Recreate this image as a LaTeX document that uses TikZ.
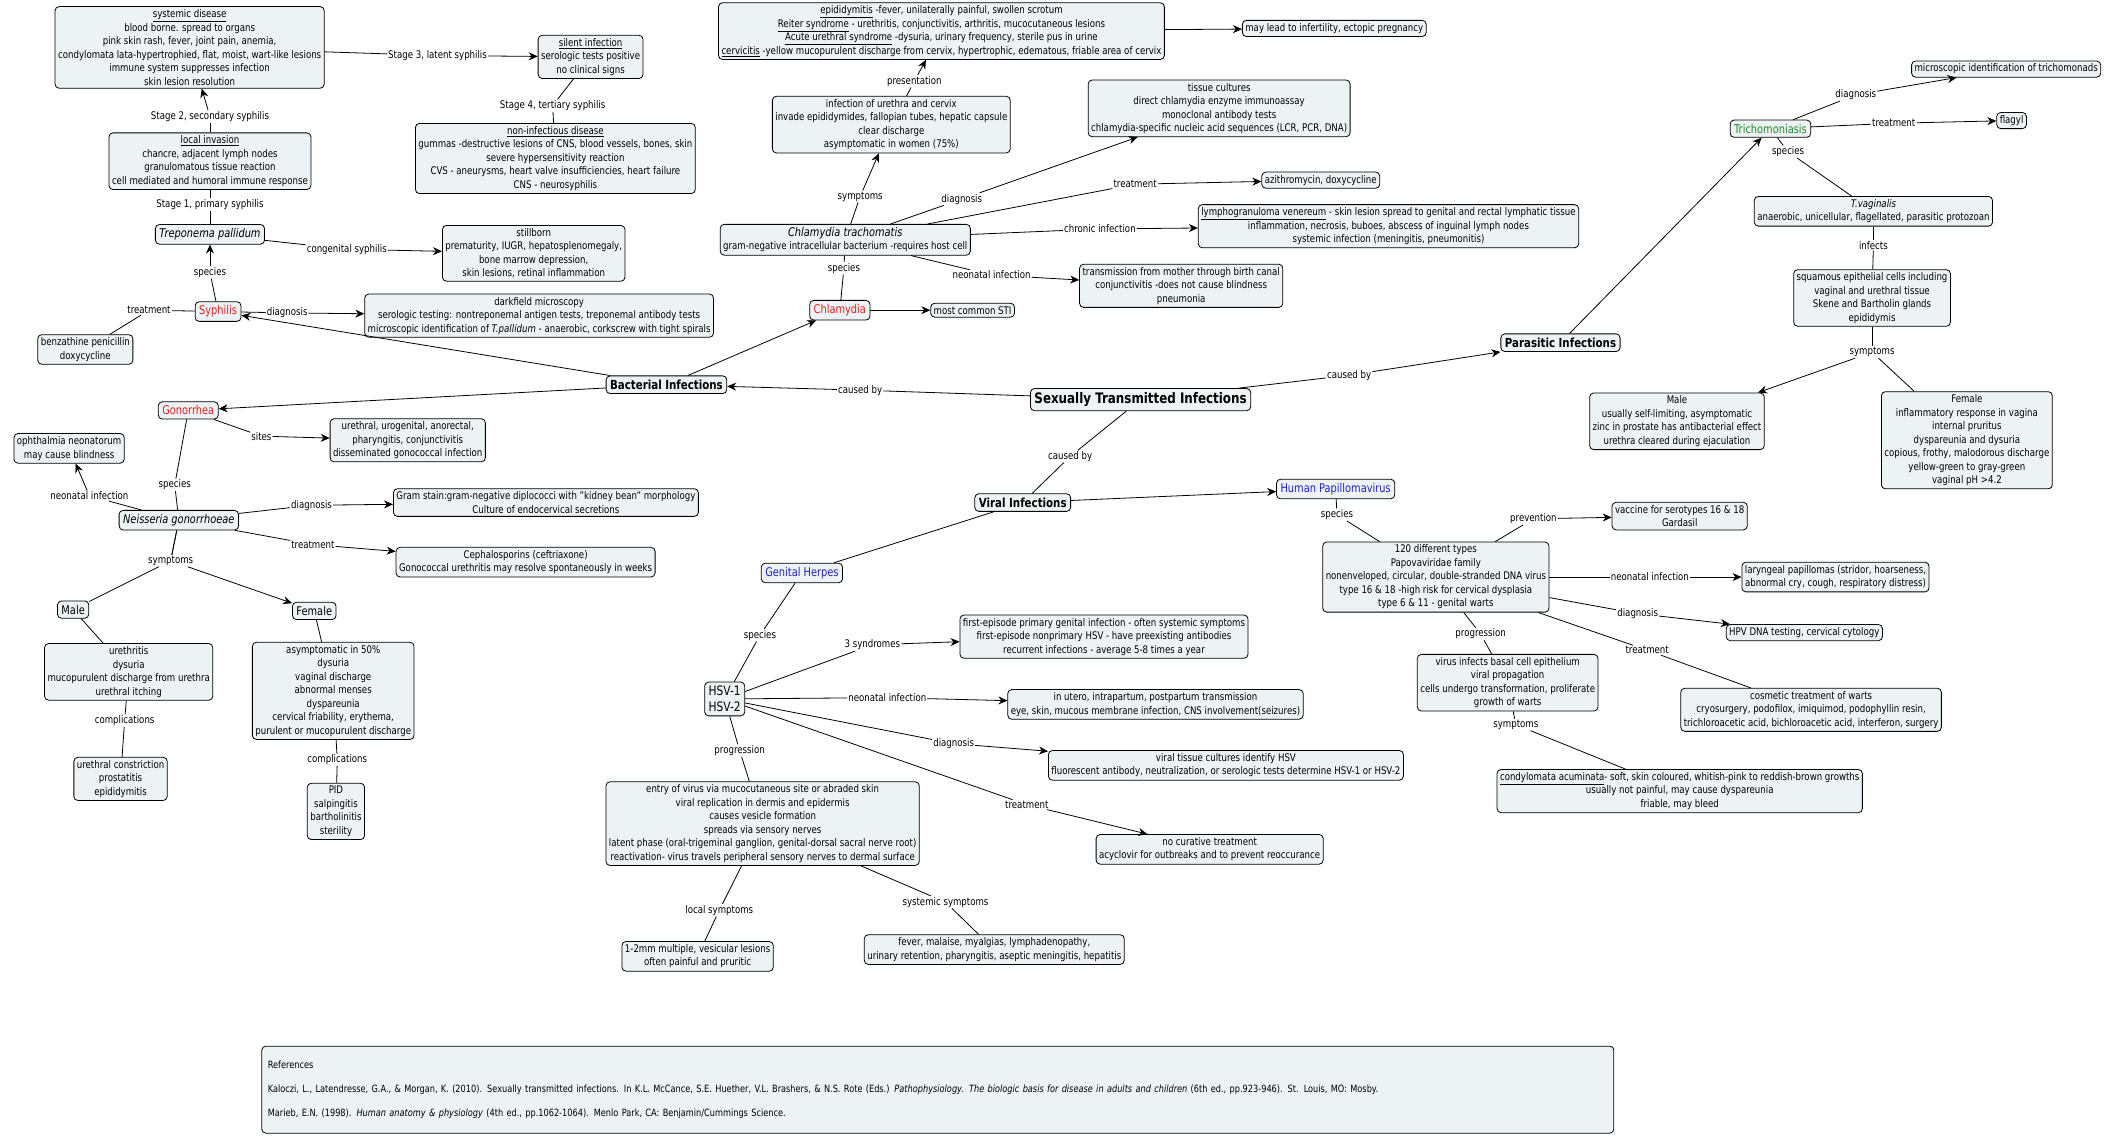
\documentclass[tikz,border=0pt]{standalone}
\usepackage{fontspec}
\setmainfont{DejaVu Sans}[FakeStretch=0.82]
\usetikzlibrary{arrows.meta}
\definecolor{boxfill}{HTML}{EDF2F4}
\definecolor{cred}{HTML}{E0201B}
\definecolor{cblue}{HTML}{2020C8}
\definecolor{cgreen}{HTML}{1E8A28}
\tikzset{box/.style={draw,rounded corners=4pt,fill=boxfill,align=center,inner sep=3pt,line width=0.8pt,font=\fontsize{10.5}{13.5}\selectfont},
	lbl/.style={inner sep=1pt,font=\fontsize{10.5}{13}\selectfont},
	head/.style={box,font=\fontsize{12.5}{15}\selectfont\bfseries,inner sep=4pt},
	kind/.style={box,font=\fontsize{12}{15}\selectfont,inner sep=4pt},
	link/.style={line width=0.8pt},
	arr/.style={link,-{Stealth[length=9pt,width=8pt]}}}

\begin{document}
\begin{tikzpicture}[x=1.3546pt,y=-1.3546pt]
\useasboundingbox (0,0) rectangle (1568,839);
% syphilis
\node[box] (sysdis) at (140,35) {\underline{systemic disease}\\blood borne. spread to organs\\pink skin rash, fever, joint pain, anemia,\\condylomata lata-hypertrophied, flat, moist, wart-like lesions\\immune system suppresses infection\\skin lesion resolution};
\node[box] (silent) at (436,42) {\underline{silent infection}\\serologic tests positive\\no clinical signs};
\node[box] (noninf) at (410,117) {\underline{non-infectious disease}\\gummas -destructive lesions of CNS, blood vessels, bones, skin\\severe hypersensitivity reaction\\CVS - aneurysms, heart valve insufficiencies, heart failure\\CNS - neurosyphilis};
\node[box] (localinv) at (155,119) {\underline{local invasion}\\chancre, adjacent lymph nodes\\granulomatous tissue reaction\\cell mediated and humoral immune response};
\node[kind] (tpall) at (155,173) {\textit{Treponema pallidum}};
\node[box] (stillborn) at (394,187) {stillborn\\prematurity, IUGR, hepatosplenomegaly,\\bone marrow depression,\\skin lesions, retinal inflammation};
\node[kind,text=cred] (syph) at (161,230) {Syphilis};
\node[box] (darkfield) at (398,233) {darkfield microscopy\\serologic testing: nontreponemal antigen tests, treponemal antibody tests\\microscopic identification of \textit{T.pallidum} - anaerobic, corkscrew with tight spirals};
\node[box] (benz) at (63,258) {benzathine penicillin\\doxycycline};
% chlamydia
\node[box] (epid) at (695,23) {\underline{epididymitis} -fever, unilaterally painful, swollen scrotum\\\underline{Reiter syndrome} - urethritis, conjunctivitis, arthritis, mucocutaneous lesions\\\underline{Acute urethral syndrome} -dysuria, urinary frequency, sterile pus in urine\\\underline{cervicitis} -yellow mucopurulent discharge from cervix, hypertrophic, edematous, friable area of cervix};
\node[box] (infert) at (985,21) {may lead to infertility, ectopic pregnancy};
\node[box] (infur) at (658,92) {infection of urethra and cervix\\invade epididymides, fallopian tubes, hepatic capsule\\clear discharge\\asymptomatic in women (75\%)};
\node[box] (tissue) at (900,80) {tissue cultures\\direct chlamydia enzyme immunoassay\\monoclonal antibody tests\\chlamydia-specific nucleic acid sequences (LCR, PCR, DNA)};
\node[box] (azi) at (975,133) {azithromycin, doxycycline};
\node[box] (ctr) at (624,177) {{\fontsize{12}{14}\selectfont\textit{Chlamydia trachomatis}}\\gram-negative intracellular bacterium -requires host cell};
\node[box] (lgv) at (1025,167) {\underline{lymphogranuloma venereum} - skin lesion spread to genital and rectal lymphatic tissue\\inflammation, necrosis, buboes, abscess of inguinal lymph nodes\\systemic infection (meningitis, pneumonitis)};
\node[box] (trans) at (872,211) {transmission from mother through birth canal\\conjunctivitis -does not cause  blindness\\pneumonia};
\node[kind,text=cred] (chlam) at (620,229) {Chlamydia};
\node[box] (mcsti) at (718,229) {most common STI};
% hubs
\node[head] (bact) at (492,284) {Bacterial Infections};
\node[head,font=\fontsize{14.5}{17}\selectfont\bfseries] (sti) at (842,295) {Sexually Transmitted Infections};
\node[head] (para) at (1152,253) {Parasitic Infections};
\node[head] (viral) at (755,371) {Viral Infections};
% gonorrhea
\node[kind,text=cred] (gon) at (139,303) {Gonorrhea};
\node[box] (sites) at (301,325) {urethral, urogenital, anorectal,\\pharyngitis, conjunctivitis\\disseminated gonococcal infection};
\node[box] (ophth) at (51,331) {ophthalmia neonatorum\\may cause blindness};
\node[kind] (neiss) at (132,384) {\textit{Neisseria gonorrhoeae}};
\node[box] (gram) at (403,371) {Gram stain:gram-negative diplococci with "kidney bean" morphology\\Culture of endocervical secretions};
\node[box] (ceph) at (388,415) {Cephalosporins (ceftriaxone)\\Gonococcal urethritis may resolve spontaneously in weeks};
\node[kind] (male) at (54,450) {Male};
\node[kind] (female) at (232,451) {Female};
\node[box] (msym) at (95,496) {urethritis\\dysuria\\mucopurulent discharge from urethra\\urethral itching};
\node[box] (fsym) at (246,510) {asymptomatic in 50\%\\dysuria\\vaginal discharge\\abnormal menses\\dyspareunia\\cervical friability, erythema,\\purulent or mucopurulent discharge};
\node[box] (mcomp) at (89,575) {urethral constriction\\prostatitis\\epididymitis};
\node[box] (pid) at (248,599) {PID\\salpingitis\\bartholinitis\\sterility};
% viral
\node[kind,text=cblue] (hpv) at (986,361) {Human Papillomavirus};
\node[kind,text=cblue] (herpes) at (592,423) {Genital Herpes};
\node[box] (hpvm) at (1060,426) {120 different types\\Papovaviridae family\\nonenveloped, circular, double-stranded DNA virus\\type 16 \& 18 -high risk for cervical dysplasia\\type 6 \& 11 - genital warts};
\node[box] (vacc) at (1240,381) {vaccine for serotypes 16 \& 18\\Gardasil};
\node[box] (laryn) at (1355,426) {laryngeal papillomas (stridor, hoarseness,\\abnormal cry, cough, respiratory distress)};
\node[box] (hpvdx) at (1332,467) {HPV DNA testing, cervical cytology};
\node[box] (vinf) at (1113,504) {virus infects basal cell epithelium\\viral propagation\\cells undergo transformation, proliferate\\growth of warts};
\node[box] (cosm) at (1337,524) {cosmetic treatment of warts\\cryosurgery, podofilox, imiquimod, podophyllin resin,\\trichloroacetic acid, bichloroacetic acid, interferon, surgery};
\node[box] (condy) at (1240,584) {\underline{condylomata acuminata}- soft, skin coloured, whitish-pink to reddish-brown growths\\usually not painful, may cause dyspareunia\\friable, may bleed};
\node[kind,font=\fontsize{13}{16}\selectfont] (hsv) at (535,516) {HSV-1\\HSV-2};
\node[box] (synd) at (815,470) {first-episode primary genital infection - often systemic symptoms\\first-episode nonprimary HSV - have preexisting antibodies\\recurrent infections - average 5-8 times a year};
\node[box] (neobox) at (853,520) {in utero, intrapartum, postpartum transmission\\eye, skin, mucous membrane infection, CNS involvement(seizures)};
\node[box] (hsvdx) at (905,565) {viral tissue cultures identify HSV\\fluorescent antibody, neutralization, or serologic tests determine HSV-1 or HSV-2};
\node[box] (nocure) at (893,627) {no curative treatment\\acyclovir for outbreaks and to prevent reoccurance};
\node[box] (entry) at (563,608) {entry of virus via mucocutaneous site or abraded skin\\viral replication in dermis and epidermis\\causes vesicle formation\\spreads via sensory nerves\\latent phase (oral-trigeminal ganglion, genital-dorsal sacral nerve root)\\reactivation- virus travels peripheral sensory nerves to dermal surface};
\node[box] (lsymb) at (515,706) {1-2mm multiple, vesicular lesions\\often painful and pruritic};
\node[box] (ssym) at (734,701) {fever, malaise, myalgias, lymphadenopathy,\\urinary retention, pharyngitis, aseptic meningitis, hepatitis};
% trichomoniasis
\node[kind,text=cgreen] (trich) at (1307,95) {Trichomoniasis};
\node[box] (micro) at (1481,51) {microscopic identification of trichomonads};
\node[box] (flagyl) at (1485,89) {flagyl};
\node[box] (tvag) at (1383,156) {\textit{T.vaginalis}\\anaerobic, unicellular, flagellated, parasitic protozoan};
\node[box] (squam) at (1382,220) {squamous epithelial cells including\\vaginal and urethral tissue\\Skene and Bartholin glands\\epididymis};
\node[box] (tmale) at (1238,311) {Male\\usually self-limiting, asymptomatic\\zinc in prostate has antibacterial effect\\urethra cleared during ejaculation};
\node[box] (tfem) at (1452,325) {Female\\inflammatory response in vagina\\internal pruritus\\dyspareunia and dysuria\\copious, frothy, malodorous discharge\\yellow-green to gray-green\\vaginal pH >4.2};
% references
\node[box,anchor=north west,align=left,text width=1340pt,minimum height=87pt,inner xsep=6pt,inner ysep=8pt,font=\fontsize{10}{24}\selectfont] (refs) at (193,772) {References\\Kaloczi, L., Latendresse, G.A., \& Morgan, K. (2010). Sexually transmitted infections. In K.L. McCance, S.E. Huether, V.L. Brashers, \& N.S. Rote (Eds.) \textit{Pathophysiology. The biologic basis for disease in adults and children}  (6th ed., pp.923-946). St. Louis, MO: Mosby.\\Marieb, E.N. (1998). \textit{Human anatomy \& physiology}  (4th ed., pp.1062-1064). Menlo Park, CA: Benjamin/Cummings Science.};

% linking phrases
\foreach \n/\x/\y/\t in {ls3/323/41/{Stage 3, latent syphilis},ls4/408/78/{Stage 4, tertiary syphilis},ls2/155/86/{Stage 2, secondary syphilis},ls1/155/151/{Stage 1, primary syphilis},lsp1/155/201/species,lcong/256/184/{congenital syphilis},ldx1/212/231/diagnosis,ltx1/110/229/treatment,
	lpres/675/60/presentation,lsym2/635/145/symptoms,ldx2/710/147/diagnosis,ltx2/838/136/treatment,lchr/812/169/{chronic infection},lneo2/732/203/{neonatal infection},lsp2/623/198/species,
	lcb1/635/288/{caused by},lcb2/996/277/{caused by},lcb3/790/337/{caused by},
	lsites/193/322/sites,lsp3/129/358/species,lneo3/66/366/{neonatal infection},ldx3/230/373/diagnosis,ltx3/231/402/treatment,lsym3/126/414/symptoms,lcomp1/92/532/complications,lcomp2/249/561/complications,
	lsp4/987/380/species,lprev/1132/383/prevention,lneo4/1218/426/{neonatal infection},ldx4/1209/453/diagnosis,lprog1/1093/468/progression,ltx4/1216/480/treatment,lsym4/1119/535/symptoms,
	lsp5/561/469/species,lsyn/644/476/{3 syndromes},lneo5/655/515/{neonatal infection},ldx5/704/549/diagnosis,ltx5/758/594/treatment,lprog2/546/554/progression,lloc/531/672/{local symptoms},lsys/698/666/{systemic symptoms},
	ldx6/1370/70/diagnosis,ltx6/1398/91/treatment,lsp6/1320/112/species,linf/1383/181/infects,lsym6/1382/260/symptoms}
	\node[lbl] (\n) at (\x,\y) {\t};

% labelled links with arrow
\foreach \a/\l/\b in {sysdis/ls3/silent,localinv/ls2/sysdis,syph/lsp1/tpall,tpall/lcong/stillborn,syph/ldx1/darkfield,
	infur/lpres/epid,ctr/lsym2/infur,ctr/ldx2/tissue,ctr/ltx2/azi,ctr/lchr/lgv,ctr/lneo2/trans,
	sti/lcb1/bact,sti/lcb2/para,gon/lsites/sites,neiss/lneo3/ophth,neiss/ldx3/gram,neiss/ltx3/ceph,neiss/lsym3/female,
	hpvm/lprev/vacc,hpvm/lneo4/laryn,hpvm/ldx4/hpvdx,hsv/lsyn/synd,hsv/lneo5/neobox,hsv/ldx5/hsvdx,hsv/ltx5/nocure,
	trich/ldx6/micro,trich/ltx6/flagyl,squam/lsym6/tmale} {
	\draw[link] (\a) -- (\l);
	\draw[arr] (\l) -- (\b);
}
% labelled links without arrow
\foreach \a/\l/\b in {silent/ls4/noninf,tpall/ls1/localinv,syph/ltx1/benz,chlam/lsp2/ctr,sti/lcb3/viral,gon/lsp3/neiss,
	neiss/lsym3/male,msym/lcomp1/mcomp,fsym/lcomp2/pid,hpv/lsp4/hpvm,hpvm/lprog1/vinf,hpvm/ltx4/cosm,vinf/lsym4/condy,
	herpes/lsp5/hsv,hsv/lprog2/entry,entry/lloc/lsymb,entry/lsys/ssym,trich/lsp6/tvag,tvag/linf/squam,squam/lsym6/tfem} {
	\draw[link] (\a) -- (\l);
	\draw[link] (\l) -- (\b);
}
% plain links
\draw[arr] (epid) -- (infert);
\draw[arr] (chlam) -- (mcsti);
\draw[arr] (bact) -- (syph);
\draw[arr] (bact) -- (gon);
\draw[arr] (bact) -- (chlam);
\draw[arr] (viral) -- (hpv);
\draw[link] (viral) -- (herpes);
\draw[arr] (para) -- (trich);
\draw[link] (male) -- (msym);
\draw[link] (female) -- (fsym);
\end{tikzpicture}
\end{document}
